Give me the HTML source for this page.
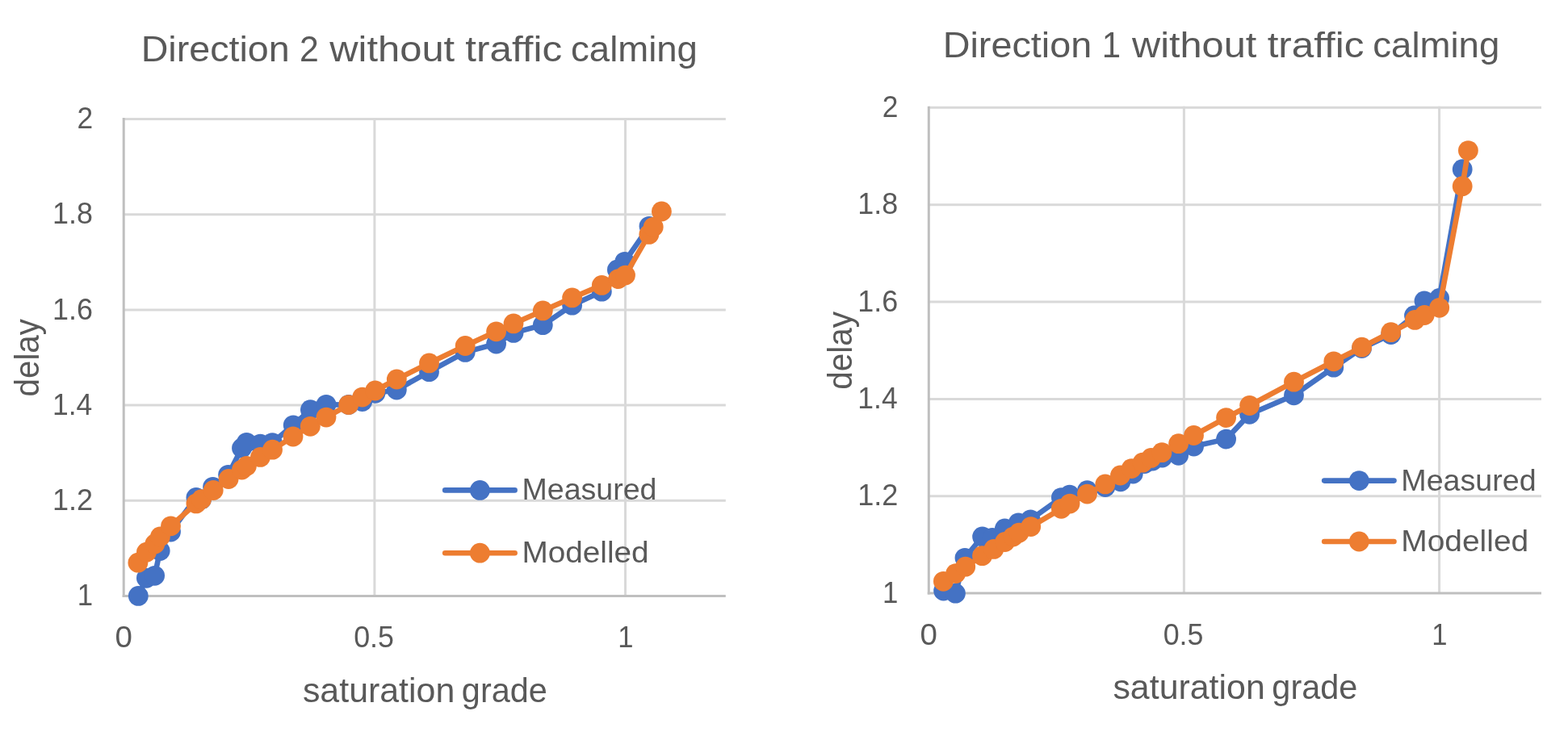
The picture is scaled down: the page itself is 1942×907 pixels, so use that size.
<!DOCTYPE html>
<html><head><meta charset="utf-8"><title>Direction charts</title>
<style>html,body{margin:0;padding:0;background:#fff;}svg{display:block;}
text{font-family:'Liberation Sans', Arial, sans-serif;fill:#595959;}</style></head>
<body><svg width="1942" height="907" viewBox="0 0 1942 907">
<rect width="1942" height="907" fill="#ffffff"/>
<line x1="153.2" y1="147.6" x2="898.8" y2="147.6" stroke="#D9D9D9" stroke-width="3.0"/>
<line x1="153.2" y1="265.8" x2="898.8" y2="265.8" stroke="#D9D9D9" stroke-width="3.0"/>
<line x1="153.2" y1="383.9" x2="898.8" y2="383.9" stroke="#D9D9D9" stroke-width="3.0"/>
<line x1="153.2" y1="502.1" x2="898.8" y2="502.1" stroke="#D9D9D9" stroke-width="3.0"/>
<line x1="153.2" y1="620.2" x2="898.8" y2="620.2" stroke="#D9D9D9" stroke-width="3.0"/>
<line x1="463.9" y1="146.1" x2="463.9" y2="738.4" stroke="#D9D9D9" stroke-width="3.0"/>
<line x1="774.5" y1="146.1" x2="774.5" y2="738.4" stroke="#D9D9D9" stroke-width="3.0"/>
<line x1="151.7" y1="738.4" x2="898.8" y2="738.4" stroke="#BFBFBF" stroke-width="3.0"/>
<line x1="153.2" y1="146.1" x2="153.2" y2="739.9" stroke="#BFBFBF" stroke-width="3.0"/>
<text x="95.42" y="159.20" font-size="37.5" textLength="19.65" lengthAdjust="spacingAndGlyphs">2</text>
<text x="64.97" y="277.36" font-size="37.5" textLength="49.89" lengthAdjust="spacingAndGlyphs">1.8</text>
<text x="64.97" y="395.52" font-size="37.5" textLength="49.91" lengthAdjust="spacingAndGlyphs">1.6</text>
<text x="65.00" y="513.68" font-size="37.5" textLength="49.34" lengthAdjust="spacingAndGlyphs">1.4</text>
<text x="64.95" y="631.84" font-size="37.5" textLength="50.16" lengthAdjust="spacingAndGlyphs">1.2</text>
<text x="95.65" y="750.00" font-size="37.5" textLength="19.35" lengthAdjust="spacingAndGlyphs">1</text>
<text x="142.50" y="802.30" font-size="37.5" textLength="21.41" lengthAdjust="spacingAndGlyphs">0</text>
<text x="438.20" y="802.30" font-size="37.5" textLength="49.80" lengthAdjust="spacingAndGlyphs">0.5</text>
<text x="765.27" y="802.30" font-size="37.5" textLength="19.22" lengthAdjust="spacingAndGlyphs">1</text>
<line x1="1150.3" y1="133.3" x2="1909.0" y2="133.3" stroke="#D9D9D9" stroke-width="3.0"/>
<line x1="1150.3" y1="253.7" x2="1909.0" y2="253.7" stroke="#D9D9D9" stroke-width="3.0"/>
<line x1="1150.3" y1="374.0" x2="1909.0" y2="374.0" stroke="#D9D9D9" stroke-width="3.0"/>
<line x1="1150.3" y1="494.4" x2="1909.0" y2="494.4" stroke="#D9D9D9" stroke-width="3.0"/>
<line x1="1150.3" y1="614.7" x2="1909.0" y2="614.7" stroke="#D9D9D9" stroke-width="3.0"/>
<line x1="1466.4" y1="131.8" x2="1466.4" y2="735.1" stroke="#D9D9D9" stroke-width="3.0"/>
<line x1="1782.6" y1="131.8" x2="1782.6" y2="735.1" stroke="#D9D9D9" stroke-width="3.0"/>
<line x1="1148.8" y1="735.1" x2="1909.0" y2="735.1" stroke="#BFBFBF" stroke-width="3.0"/>
<line x1="1150.3" y1="131.8" x2="1150.3" y2="736.6" stroke="#BFBFBF" stroke-width="3.0"/>
<text x="1092.72" y="144.90" font-size="37.5" textLength="19.65" lengthAdjust="spacingAndGlyphs">2</text>
<text x="1062.27" y="265.26" font-size="37.5" textLength="49.89" lengthAdjust="spacingAndGlyphs">1.8</text>
<text x="1062.27" y="385.62" font-size="37.5" textLength="49.91" lengthAdjust="spacingAndGlyphs">1.6</text>
<text x="1062.30" y="505.98" font-size="37.5" textLength="49.34" lengthAdjust="spacingAndGlyphs">1.4</text>
<text x="1062.25" y="626.34" font-size="37.5" textLength="50.16" lengthAdjust="spacingAndGlyphs">1.2</text>
<text x="1092.95" y="746.70" font-size="37.5" textLength="19.35" lengthAdjust="spacingAndGlyphs">1</text>
<text x="1139.60" y="799.10" font-size="37.5" textLength="21.41" lengthAdjust="spacingAndGlyphs">0</text>
<text x="1440.70" y="799.10" font-size="37.5" textLength="49.80" lengthAdjust="spacingAndGlyphs">0.5</text>
<text x="1773.37" y="799.10" font-size="37.5" textLength="19.22" lengthAdjust="spacingAndGlyphs">1</text>
<text x="174.68" y="75.80" font-size="44.5" textLength="183.95" lengthAdjust="spacingAndGlyphs">Direction</text>
<text x="371.05" y="75.80" font-size="44.5" textLength="23.81" lengthAdjust="spacingAndGlyphs">2</text>
<text x="408.27" y="75.80" font-size="44.5" textLength="154.89" lengthAdjust="spacingAndGlyphs">without</text>
<text x="576.36" y="75.80" font-size="44.5" textLength="119.83" lengthAdjust="spacingAndGlyphs">traffic</text>
<text x="707.07" y="75.80" font-size="44.5" textLength="156.87" lengthAdjust="spacingAndGlyphs">calming</text>
<text x="1167.66" y="70.80" font-size="44.5" textLength="184.58" lengthAdjust="spacingAndGlyphs">Direction</text>
<text x="1364.80" y="70.80" font-size="44.5" textLength="23.35" lengthAdjust="spacingAndGlyphs">1</text>
<text x="1401.97" y="70.80" font-size="44.5" textLength="154.29" lengthAdjust="spacingAndGlyphs">without</text>
<text x="1569.66" y="70.80" font-size="44.5" textLength="119.83" lengthAdjust="spacingAndGlyphs">traffic</text>
<text x="1700.26" y="70.80" font-size="44.5" textLength="157.07" lengthAdjust="spacingAndGlyphs">calming</text>
<text x="374.91" y="869.50" font-size="41.6" textLength="188.38" lengthAdjust="spacingAndGlyphs">saturation</text>
<text x="571.86" y="869.50" font-size="41.6" textLength="105.98" lengthAdjust="spacingAndGlyphs">grade</text>
<text x="1378.41" y="866.30" font-size="41.6" textLength="188.38" lengthAdjust="spacingAndGlyphs">saturation</text>
<text x="1575.36" y="866.30" font-size="41.6" textLength="105.98" lengthAdjust="spacingAndGlyphs">grade</text>
<text transform="translate(47.70,491.39) rotate(-90)" x="0" y="0" font-size="41.8" textLength="96.27" lengthAdjust="spacingAndGlyphs">delay</text>
<text transform="translate(1054.60,482.70) rotate(-90)" x="0" y="0" font-size="41.8" textLength="96.68" lengthAdjust="spacingAndGlyphs">delay</text>
<path d="M171.3,738.4 L181.4,716.3 L191.6,713.3 L198.2,682.5 L211.5,659.1 L242.9,616.4 L249.5,619.0 L263.6,603.3 L282.6,588.3 L299.5,555.2 L305.4,548.3 L322.4,550.1 L337.3,548.6 L363.2,526.8 L384.4,507.7 L404.0,501.3 L431.8,501.5 L448.7,497.6 L464.9,487.3 L491.3,483.0 L531.5,460.7 L576.2,436.4 L614.6,426.0 L636.0,412.4 L672.3,402.7 L708.6,378.2 L745.3,361.2 L764.4,334.2 L773.7,324.3 L804.0,280.3" fill="none" stroke="#4472C4" stroke-width="6.6" stroke-linejoin="round" stroke-linecap="round"/>
<circle cx="171.3" cy="738.4" r="12.4" fill="#4472C4"/><circle cx="181.4" cy="716.3" r="12.4" fill="#4472C4"/><circle cx="191.6" cy="713.3" r="12.4" fill="#4472C4"/><circle cx="198.2" cy="682.5" r="12.4" fill="#4472C4"/><circle cx="211.5" cy="659.1" r="12.4" fill="#4472C4"/><circle cx="242.9" cy="616.4" r="12.4" fill="#4472C4"/><circle cx="249.5" cy="619.0" r="12.4" fill="#4472C4"/><circle cx="263.6" cy="603.3" r="12.4" fill="#4472C4"/><circle cx="282.6" cy="588.3" r="12.4" fill="#4472C4"/><circle cx="299.5" cy="555.2" r="12.4" fill="#4472C4"/><circle cx="305.4" cy="548.3" r="12.4" fill="#4472C4"/><circle cx="322.4" cy="550.1" r="12.4" fill="#4472C4"/><circle cx="337.3" cy="548.6" r="12.4" fill="#4472C4"/><circle cx="363.2" cy="526.8" r="12.4" fill="#4472C4"/><circle cx="384.4" cy="507.7" r="12.4" fill="#4472C4"/><circle cx="404.0" cy="501.3" r="12.4" fill="#4472C4"/><circle cx="431.8" cy="501.5" r="12.4" fill="#4472C4"/><circle cx="448.7" cy="497.6" r="12.4" fill="#4472C4"/><circle cx="464.9" cy="487.3" r="12.4" fill="#4472C4"/><circle cx="491.3" cy="483.0" r="12.4" fill="#4472C4"/><circle cx="531.5" cy="460.7" r="12.4" fill="#4472C4"/><circle cx="576.2" cy="436.4" r="12.4" fill="#4472C4"/><circle cx="614.6" cy="426.0" r="12.4" fill="#4472C4"/><circle cx="636.0" cy="412.4" r="12.4" fill="#4472C4"/><circle cx="672.3" cy="402.7" r="12.4" fill="#4472C4"/><circle cx="708.6" cy="378.2" r="12.4" fill="#4472C4"/><circle cx="745.3" cy="361.2" r="12.4" fill="#4472C4"/><circle cx="764.4" cy="334.2" r="12.4" fill="#4472C4"/><circle cx="773.7" cy="324.3" r="12.4" fill="#4472C4"/><circle cx="804.0" cy="280.3" r="12.4" fill="#4472C4"/>

<path d="M170.9,697.2 L181.4,684.2 L191.8,673.9 L198.4,665.0 L211.5,651.8 L242.9,623.9 L249.5,618.7 L264.2,607.5 L283.1,593.5 L299.5,582.1 L305.4,577.4 L322.4,566.4 L337.5,557.2 L363.0,541.0 L384.3,528.3 L404.0,517.1 L431.7,501.6 L448.7,492.1 L464.6,484.0 L491.3,470.0 L531.5,449.9 L576.2,428.5 L614.6,410.8 L636.0,400.9 L672.3,384.9 L708.6,368.9 L745.3,353.4 L765.7,345.6 L774.5,341.1 L803.8,290.4 L809.2,281.3 L819.4,262.0" fill="none" stroke="#ED7D31" stroke-width="6.6" stroke-linejoin="round" stroke-linecap="round"/>
<circle cx="170.9" cy="697.2" r="12.4" fill="#ED7D31"/><circle cx="181.4" cy="684.2" r="12.4" fill="#ED7D31"/><circle cx="191.8" cy="673.9" r="12.4" fill="#ED7D31"/><circle cx="198.4" cy="665.0" r="12.4" fill="#ED7D31"/><circle cx="211.5" cy="651.8" r="12.4" fill="#ED7D31"/><circle cx="242.9" cy="623.9" r="12.4" fill="#ED7D31"/><circle cx="249.5" cy="618.7" r="12.4" fill="#ED7D31"/><circle cx="264.2" cy="607.5" r="12.4" fill="#ED7D31"/><circle cx="283.1" cy="593.5" r="12.4" fill="#ED7D31"/><circle cx="299.5" cy="582.1" r="12.4" fill="#ED7D31"/><circle cx="305.4" cy="577.4" r="12.4" fill="#ED7D31"/><circle cx="322.4" cy="566.4" r="12.4" fill="#ED7D31"/><circle cx="337.5" cy="557.2" r="12.4" fill="#ED7D31"/><circle cx="363.0" cy="541.0" r="12.4" fill="#ED7D31"/><circle cx="384.3" cy="528.3" r="12.4" fill="#ED7D31"/><circle cx="404.0" cy="517.1" r="12.4" fill="#ED7D31"/><circle cx="431.7" cy="501.6" r="12.4" fill="#ED7D31"/><circle cx="448.7" cy="492.1" r="12.4" fill="#ED7D31"/><circle cx="464.6" cy="484.0" r="12.4" fill="#ED7D31"/><circle cx="491.3" cy="470.0" r="12.4" fill="#ED7D31"/><circle cx="531.5" cy="449.9" r="12.4" fill="#ED7D31"/><circle cx="576.2" cy="428.5" r="12.4" fill="#ED7D31"/><circle cx="614.6" cy="410.8" r="12.4" fill="#ED7D31"/><circle cx="636.0" cy="400.9" r="12.4" fill="#ED7D31"/><circle cx="672.3" cy="384.9" r="12.4" fill="#ED7D31"/><circle cx="708.6" cy="368.9" r="12.4" fill="#ED7D31"/><circle cx="745.3" cy="353.4" r="12.4" fill="#ED7D31"/><circle cx="765.7" cy="345.6" r="12.4" fill="#ED7D31"/><circle cx="774.5" cy="341.1" r="12.4" fill="#ED7D31"/><circle cx="803.8" cy="290.4" r="12.4" fill="#ED7D31"/><circle cx="809.2" cy="281.3" r="12.4" fill="#ED7D31"/><circle cx="819.4" cy="262.0" r="12.4" fill="#ED7D31"/>

<path d="M1168.6,732.0 L1183.4,735.2 L1195.0,691.3 L1216.6,665.0 L1229.0,666.5 L1244.4,655.0 L1261.3,647.8 L1276.2,643.9 L1314.4,616.6 L1324.7,613.2 L1346.5,607.7 L1368.9,603.6 L1387.9,596.8 L1403.3,587.0 L1417.6,574.5 L1427.5,571.0 L1439.4,567.0 L1459.6,564.3 L1478.6,553.0 L1518.6,544.1 L1547.6,513.3 L1602.5,489.8 L1651.8,455.2 L1686.6,431.5 L1722.7,414.6 L1751.5,391.0 L1764.0,372.9 L1782.6,369.5 L1811.2,209.7" fill="none" stroke="#4472C4" stroke-width="6.6" stroke-linejoin="round" stroke-linecap="round"/>
<circle cx="1168.6" cy="732.0" r="12.4" fill="#4472C4"/><circle cx="1183.4" cy="735.2" r="12.4" fill="#4472C4"/><circle cx="1195.0" cy="691.3" r="12.4" fill="#4472C4"/><circle cx="1216.6" cy="665.0" r="12.4" fill="#4472C4"/><circle cx="1229.0" cy="666.5" r="12.4" fill="#4472C4"/><circle cx="1244.4" cy="655.0" r="12.4" fill="#4472C4"/><circle cx="1261.3" cy="647.8" r="12.4" fill="#4472C4"/><circle cx="1276.2" cy="643.9" r="12.4" fill="#4472C4"/><circle cx="1314.4" cy="616.6" r="12.4" fill="#4472C4"/><circle cx="1324.7" cy="613.2" r="12.4" fill="#4472C4"/><circle cx="1346.5" cy="607.7" r="12.4" fill="#4472C4"/><circle cx="1368.9" cy="603.6" r="12.4" fill="#4472C4"/><circle cx="1387.9" cy="596.8" r="12.4" fill="#4472C4"/><circle cx="1403.3" cy="587.0" r="12.4" fill="#4472C4"/><circle cx="1417.6" cy="574.5" r="12.4" fill="#4472C4"/><circle cx="1427.5" cy="571.0" r="12.4" fill="#4472C4"/><circle cx="1439.4" cy="567.0" r="12.4" fill="#4472C4"/><circle cx="1459.6" cy="564.3" r="12.4" fill="#4472C4"/><circle cx="1478.6" cy="553.0" r="12.4" fill="#4472C4"/><circle cx="1518.6" cy="544.1" r="12.4" fill="#4472C4"/><circle cx="1547.6" cy="513.3" r="12.4" fill="#4472C4"/><circle cx="1602.5" cy="489.8" r="12.4" fill="#4472C4"/><circle cx="1651.8" cy="455.2" r="12.4" fill="#4472C4"/><circle cx="1686.6" cy="431.5" r="12.4" fill="#4472C4"/><circle cx="1722.7" cy="414.6" r="12.4" fill="#4472C4"/><circle cx="1751.5" cy="391.0" r="12.4" fill="#4472C4"/><circle cx="1764.0" cy="372.9" r="12.4" fill="#4472C4"/><circle cx="1782.6" cy="369.5" r="12.4" fill="#4472C4"/><circle cx="1811.2" cy="209.7" r="12.4" fill="#4472C4"/>

<path d="M1168.4,720.3 L1183.7,710.6 L1195.7,702.2 L1216.5,688.7 L1230.8,680.4 L1244.6,671.5 L1254.7,665.1 L1262.0,660.2 L1276.7,652.6 L1314.4,630.3 L1325.1,624.1 L1346.5,612.1 L1368.8,599.9 L1387.5,589.0 L1401.3,580.6 L1415.1,573.2 L1425.6,567.4 L1439.0,560.7 L1459.6,549.7 L1478.5,539.5 L1518.6,517.6 L1547.6,502.5 L1602.5,473.2 L1651.8,447.8 L1686.6,430.2 L1722.7,411.7 L1752.4,396.4 L1764.2,390.5 L1782.7,381.3 L1811.2,230.7 L1818.4,186.6" fill="none" stroke="#ED7D31" stroke-width="6.6" stroke-linejoin="round" stroke-linecap="round"/>
<circle cx="1168.4" cy="720.3" r="12.4" fill="#ED7D31"/><circle cx="1183.7" cy="710.6" r="12.4" fill="#ED7D31"/><circle cx="1195.7" cy="702.2" r="12.4" fill="#ED7D31"/><circle cx="1216.5" cy="688.7" r="12.4" fill="#ED7D31"/><circle cx="1230.8" cy="680.4" r="12.4" fill="#ED7D31"/><circle cx="1244.6" cy="671.5" r="12.4" fill="#ED7D31"/><circle cx="1254.7" cy="665.1" r="12.4" fill="#ED7D31"/><circle cx="1262.0" cy="660.2" r="12.4" fill="#ED7D31"/><circle cx="1276.7" cy="652.6" r="12.4" fill="#ED7D31"/><circle cx="1314.4" cy="630.3" r="12.4" fill="#ED7D31"/><circle cx="1325.1" cy="624.1" r="12.4" fill="#ED7D31"/><circle cx="1346.5" cy="612.1" r="12.4" fill="#ED7D31"/><circle cx="1368.8" cy="599.9" r="12.4" fill="#ED7D31"/><circle cx="1387.5" cy="589.0" r="12.4" fill="#ED7D31"/><circle cx="1401.3" cy="580.6" r="12.4" fill="#ED7D31"/><circle cx="1415.1" cy="573.2" r="12.4" fill="#ED7D31"/><circle cx="1425.6" cy="567.4" r="12.4" fill="#ED7D31"/><circle cx="1439.0" cy="560.7" r="12.4" fill="#ED7D31"/><circle cx="1459.6" cy="549.7" r="12.4" fill="#ED7D31"/><circle cx="1478.5" cy="539.5" r="12.4" fill="#ED7D31"/><circle cx="1518.6" cy="517.6" r="12.4" fill="#ED7D31"/><circle cx="1547.6" cy="502.5" r="12.4" fill="#ED7D31"/><circle cx="1602.5" cy="473.2" r="12.4" fill="#ED7D31"/><circle cx="1651.8" cy="447.8" r="12.4" fill="#ED7D31"/><circle cx="1686.6" cy="430.2" r="12.4" fill="#ED7D31"/><circle cx="1722.7" cy="411.7" r="12.4" fill="#ED7D31"/><circle cx="1752.4" cy="396.4" r="12.4" fill="#ED7D31"/><circle cx="1764.2" cy="390.5" r="12.4" fill="#ED7D31"/><circle cx="1782.7" cy="381.3" r="12.4" fill="#ED7D31"/><circle cx="1811.2" cy="230.7" r="12.4" fill="#ED7D31"/><circle cx="1818.4" cy="186.6" r="12.4" fill="#ED7D31"/>

<line x1="551.2" y1="607.4" x2="637.6" y2="607.4" stroke="#4472C4" stroke-width="6.6" stroke-linecap="round"/><circle cx="594.4" cy="607.4" r="12.4" fill="#4472C4"/><text x="646.52" y="618.90" font-size="36.6" textLength="166.90" lengthAdjust="spacingAndGlyphs">Measured</text>
<line x1="551.2" y1="685.2" x2="637.6" y2="685.2" stroke="#ED7D31" stroke-width="6.6" stroke-linecap="round"/><circle cx="594.4" cy="685.2" r="12.4" fill="#ED7D31"/><text x="646.42" y="696.80" font-size="36.6" textLength="157.28" lengthAdjust="spacingAndGlyphs">Modelled</text>

<line x1="1640.2" y1="595.6" x2="1726.5" y2="595.6" stroke="#4472C4" stroke-width="6.6" stroke-linecap="round"/><circle cx="1683.3" cy="595.6" r="12.4" fill="#4472C4"/><text x="1735.31" y="607.50" font-size="36.6" textLength="167.41" lengthAdjust="spacingAndGlyphs">Measured</text>
<line x1="1640.2" y1="671.0" x2="1726.5" y2="671.0" stroke="#ED7D31" stroke-width="6.6" stroke-linecap="round"/><circle cx="1683.3" cy="671.0" r="12.4" fill="#ED7D31"/><text x="1735.21" y="682.50" font-size="36.6" textLength="158.00" lengthAdjust="spacingAndGlyphs">Modelled</text>

</svg></body></html>
